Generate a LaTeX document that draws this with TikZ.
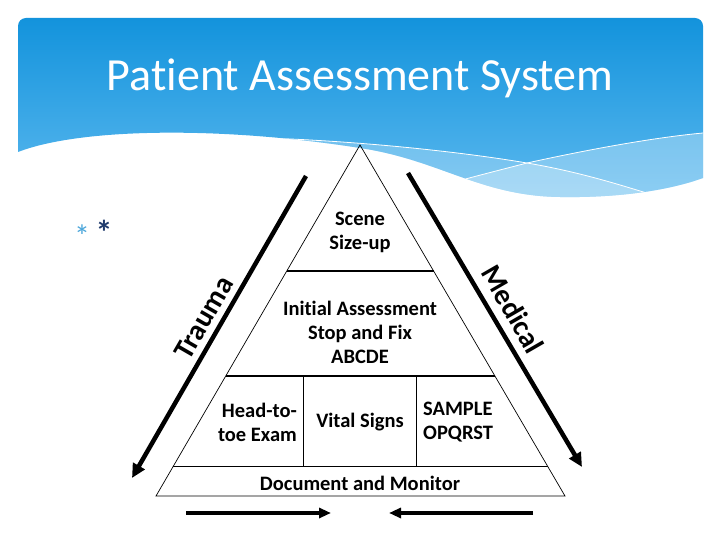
\documentclass[tikz,border=0pt]{standalone}
\usepackage{fontspec}
\setmainfont{Carlito}[Ligatures={NoCommon,NoRequired,NoContextual}]
\usetikzlibrary{arrows.meta, calc}

\definecolor{bannertop}{HTML}{1393DC}
\definecolor{bannerlow}{HTML}{5CB9EF}
\definecolor{starlight}{HTML}{4BA6DA}
\definecolor{starnavy}{HTML}{1F3A6B}

\begin{document}
\begin{tikzpicture}[x=1pt, y=-1pt,
  lbl/.style={font=\fontsize{20.5}{24}\selectfont\bfseries, align=center, inner sep=0pt},
  side/.style={font=\fontsize{29}{30}\selectfont\bfseries, inner sep=0pt},
  edge/.style={line width=0.7pt},
  tier/.style={line width=1.2pt},
  big/.style={-{Triangle[length=14pt, width=13pt]}, line width=4.5pt},
  flat/.style={-{Triangle[length=12pt, width=10pt]}, line width=4pt}
]
\useasboundingbox (0,0) rectangle (720,540);
% banner with wave
\begin{scope}
  \clip[rounded corners=8pt] (18,18) rectangle (703,300);
  \clip (18,0) -- (18,152) .. controls (80,128) and (220,126) .. (360,148)
        .. controls (440,160) and (480,196) .. (560,197)
        .. controls (620,198) and (670,190) .. (703,178) -- (703,0) -- cycle;
  \shade[top color=bannertop, bottom color=bannerlow] (18,18) rectangle (703,200);
  \fill[white, opacity=0.25] (221,137) .. controls (330,138) and (450,150) .. (527,163)
        .. controls (580,172) and (620,185) .. (650,194) -- (650,260) -- (221,260) -- cycle;
  \fill[white, opacity=0.3] (443,185) .. controls (480,175) and (500,170) .. (527,163)
        .. controls (600,147) and (660,137) .. (703,133) -- (703,260) -- (443,260) -- cycle;
  \draw[white, line width=0.8pt] (221,137) .. controls (330,138) and (450,150) .. (527,163)
        .. controls (580,172) and (620,185) .. (650,194);
  \draw[white, line width=0.8pt] (443,185) .. controls (480,175) and (500,170) .. (527,163)
        .. controls (600,147) and (660,137) .. (703,133);
\end{scope}
\node[text=white, font=\fontsize{46}{46}\selectfont] (title) at (360,78) {Patient Assessment System};

% bullet stars
\node[text=starlight, font=\fontsize{32}{32}\selectfont] (bulletstar) at (82,236) {*};
\node[text=starnavy, font=\fontsize{34}{34}\selectfont\bfseries] (star) at (104,232) {*};

% pyramid
\coordinate (apex) at (360,145);
\coordinate (bl) at (156,496);
\coordinate (br) at (565,496);
\draw[edge] (apex) -- (bl) -- (br) -- cycle;
\draw[tier] ($(apex)!0.359!(bl)$) -- ($(apex)!0.359!(br)$);
\draw[tier] ($(apex)!0.658!(bl)$) -- ($(apex)!0.658!(br)$);
\draw[tier] ($(apex)!0.917!(bl)$) -- ($(apex)!0.917!(br)$);
\draw[edge] (303,376) -- (303,467);
\draw[edge] (416,376) -- (416,467);

\node[lbl] (scene) at (360,232) {Scene\\Size-up};
\node[lbl] (initial) at (360,332) {Initial Assessment\\Stop and Fix\\ABCDE};
\node[lbl, align=right, anchor=east] (head) at (297,422) {Head-to-\\toe Exam};
\node[lbl] (vital) at (360,422) {Vital Signs};
\node[lbl, align=left, anchor=west] (sample) at (423,422) {SAMPLE\\OPQRST};
\node[lbl] (docmon) at (360,483) {Document and Monitor};

% side arrows
\coordinate (traumaS) at (306,176);
\coordinate (traumaE) at (132,478);
\draw[big] (traumaS) -- (traumaE);
\node[side, rotate=60] (trauma) at (204,318) {Trauma};
\coordinate (medicalS) at (408,173);
\coordinate (medicalE) at (582,467);
\draw[big] (medicalS) -- (medicalE);
\node[side, rotate=-60] (medical) at (513,309) {Medical};

% bottom arrows
\coordinate (left1) at (186,513);
\coordinate (left2) at (331,513);
\draw[flat] (left1) -- (left2);
\coordinate (right1) at (533,513);
\coordinate (right2) at (389,513);
\draw[flat] (right1) -- (right2);
\end{tikzpicture}
\end{document}
